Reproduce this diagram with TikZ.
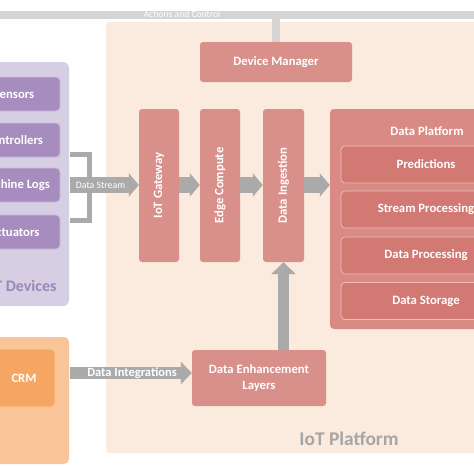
\documentclass[tikz,border=0pt]{standalone}
\usepackage{fontspec}
\usepackage{graphicx}
\setmainfont{Carlito}
\usetikzlibrary{arrows.meta}
\definecolor{platbg}{RGB}{251,234,222}
\definecolor{redbox}{RGB}{217,144,138}
\definecolor{dpbox}{RGB}{217,138,132}
\definecolor{dpinner}{RGB}{211,121,115}
\definecolor{dpborder}{RGB}{240,190,185}
\definecolor{purplebg}{RGB}{214,206,227}
\definecolor{purplebox}{RGB}{167,141,191}
\definecolor{purpleborder}{RGB}{200,188,218}
\definecolor{purpletext}{RGB}{155,135,185}
\definecolor{orangebg}{RGB}{249,197,152}
\definecolor{orangebox}{RGB}{244,166,98}
\definecolor{orangeborder}{RGB}{250,200,160}
\definecolor{arrowgray}{RGB}{170,170,170}
\definecolor{bargray}{RGB}{212,212,212}
\definecolor{labelgray}{RGB}{166,166,166}
\tikzset{
  boxfont/.style={font=\bfseries\fontsize{12.7}{16}\selectfont},
  rednode/.style={fill=redbox, rounded corners=3pt, inner sep=0pt, text=white, boxfont, align=center},
  vnode/.style={rednode, minimum width=40pt, minimum height=153pt},
  dpitem/.style={fill=dpinner, draw=dpborder, line width=0.8pt, rounded corners=4pt, minimum width=170pt, minimum height=37pt, inner sep=0pt, text=white, boxfont},
  devitem/.style={fill=purplebox, draw=purpleborder, line width=0.8pt, rounded corners=4pt, minimum width=92pt, minimum height=34pt, inner sep=0pt, text=white, boxfont},
  blockarrow/.style={draw=arrowgray, line width=16pt, -{Triangle[width=23pt,length=10pt]}},
  thinarrow/.style={draw=arrowgray, line width=12pt, -{Triangle[width=22pt,length=11pt]}},
  arrowtext/.style={text=white, font=\fontsize{9.8}{11}\selectfont, inner sep=0pt},
}
\begin{document}
\begin{tikzpicture}[x=1pt,y=-1pt]
\useasboundingbox (0,0) rectangle (474,474);
\clip (0,0) rectangle (474,474);
% IoT Platform background
\node[fill=platbg, rounded corners=3pt, minimum width=400pt, minimum height=431pt, inner sep=0pt] (plat) at (306,237.5) {};
\node[text=labelgray, font=\bfseries\fontsize{19.4}{22}\selectfont, inner sep=0pt] (platlabel) at (349,439) {IoT Platform};
% Top bar
\coordinate (barL) at (0,15);
\coordinate (barR) at (474,15);
\draw[bargray, line width=8pt] (barL) -- (barR);
\node[text=white, font=\fontsize{9.6}{10}\selectfont, inner sep=0pt] (actions) at (182,14.5) {Actions and Control};
% IoT devices group
\node[fill=purplebg, rounded corners=6pt, minimum width=90pt, minimum height=244pt, inner sep=0pt] (devgrp) at (24,184) {};
\node[devitem] (sensors) at (14,94) {Sensors};
\node[devitem] (controllers) at (14,140) {Controllers};
\node[devitem] (logs) at (14,185) {Machine Logs};
\node[devitem] (actuators) at (14,232) {Actuators};
\node[text=purpletext, font=\bfseries\fontsize{16}{19}\selectfont, inner sep=0pt] (devlabel) at (19,286) {IoT Devices};
% CRM group
\node[fill=orangebg, rounded corners=5pt, minimum width=90pt, minimum height=127pt, inner sep=0pt] (crmgrp) at (24,400.5) {};
\node[fill=orangebox, draw=orangeborder, line width=0.8pt, rounded corners=4pt, minimum width=80pt, minimum height=58pt, inner sep=0pt, text=white, boxfont] (crm) at (15,378) {\hspace*{18pt}CRM};
% Device manager
\node[rednode, minimum width=152pt, minimum height=40pt] (dm) at (276,62) {Device Manager};
\draw[bargray, line width=8pt] (dm.north) -- (dm.north |- barL);
% vertical blocks
\node[vnode] (gw) at (159,185.5) {\rotatebox{90}{IoT Gateway}};
\node[vnode] (ec) at (220,185.5) {\rotatebox{90}{Edge Compute}};
\node[vnode, minimum width=41pt] (di) at (283.5,185.5) {\rotatebox{90}{Data Ingestion}};
% Data platform
\node[fill=dpbox, rounded corners=4pt, minimum width=200pt, minimum height=220pt, inner sep=0pt] (dp) at (430,219) {};
\node[text=white, boxfont, inner sep=0pt] (dptitle) at (427,131) {Data Platform};
\node[dpitem] (pred) at (426,164.5) {Predictions};
\node[dpitem] (stream) at (426,209.5) {Stream Processing};
\node[dpitem] (dproc) at (426,255.5) {Data Processing};
\node[dpitem] (dstore) at (426,301) {Data Storage};
% Data enhancement
\node[rednode, minimum width=134pt, minimum height=56pt] (de) at (259,378) {Data Enhancement\\Layers};
% bracket and data stream arrow
\coordinate (brT) at (70,154.5);
\coordinate (brB) at (70,220.5);
\coordinate (brX) at (89,185);
\draw[arrowgray, line width=5pt] (brT) -- (brT -| brX) -- (brB -| brX) -- (brB);
\coordinate (dsStart) at (70,185);
\draw[blockarrow] (dsStart) -- (gw.west |- dsStart);
\node[arrowtext] (dslabel) at (100.5,185) {Data Stream};
% arrows between blocks
\draw[blockarrow] (gw.east |- dsStart) -- (ec.west |- dsStart);
\draw[blockarrow] (ec.east |- dsStart) -- (di.west |- dsStart);
\draw[blockarrow] (di.east |- dsStart) -- (dp.west |- dsStart);
% data integrations arrow
\coordinate (diStart) at (70,373);
\draw[thinarrow] (diStart) -- (de.west |- diStart);
\node[arrowtext, font=\bfseries\fontsize{12.5}{13}\selectfont] (dilabel) at (132,373) {Data Integrations};
% up arrow
\draw[draw=arrowgray, line width=11pt, -{Triangle[width=24pt,length=12pt]}] (de.north -| di) -- (di.south);
\end{tikzpicture}
\end{document}
